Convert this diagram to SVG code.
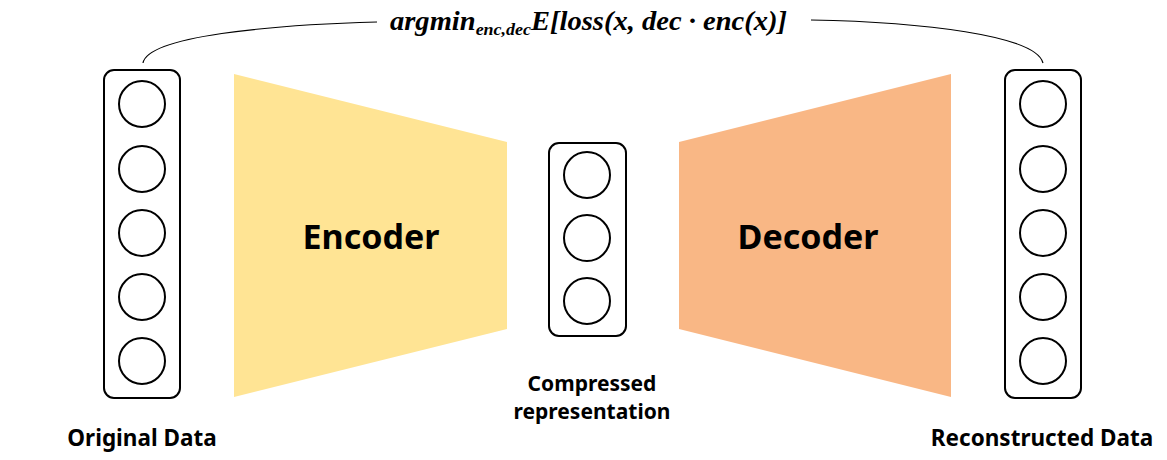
<svg xmlns="http://www.w3.org/2000/svg" width="1167" height="460" viewBox="0 0 1167 460">
<style>
.box{fill:#fff;stroke:#000;stroke-width:2}
.c{fill:#fff;stroke:#000;stroke-width:2}
.lbl{font-family:"Noto Sans","Open Sans",sans-serif;font-weight:bold;font-size:22.5px;fill:#000;text-anchor:middle}
.lbl2{font-family:"Noto Sans","Open Sans",sans-serif;font-weight:bold;font-size:21px;fill:#000;text-anchor:middle}
.big{font-family:"Noto Sans","Open Sans",sans-serif;font-weight:bold;font-size:34px;fill:#000;text-anchor:middle}
.f{font-family:"Liberation Serif",serif;font-weight:bold;font-style:italic;fill:#000}
.conn{fill:none;stroke:#000;stroke-width:1.2}
</style>
<rect width="1167" height="460" fill="#fff"/>
<g id="connectors">
<path class="conn" d="M143,63 C148,36 270,25 377,22"/>
<path class="conn" d="M811,20 C920,22 1036,35 1043,63"/>
</g>
<g id="formula">
<text class="f" x="390" y="30" font-size="27" textLength="397" lengthAdjust="spacingAndGlyphs">argmin<tspan font-size="17" dy="5">enc,dec</tspan><tspan dy="-5">E[loss(x, dec · enc(x)]</tspan></text>
</g>
<g id="original">
<rect class="box" x="104" y="70" width="76" height="328" rx="10"/>
<circle class="c" cx="142" cy="104" r="23"/>
<circle class="c" cx="142" cy="169" r="23"/>
<circle class="c" cx="142" cy="233" r="23"/>
<circle class="c" cx="142" cy="297" r="23"/>
<circle class="c" cx="142" cy="361" r="23"/>
<text class="lbl" x="142" y="446">Original Data</text>
</g>
<g id="encoder">
<polygon points="234,74 507,142 507,329 234,397" fill="#FFE494"/>
<text class="big" x="371" y="249">Encoder</text>
</g>
<g id="compressed">
<rect class="box" x="549" y="143" width="77" height="193" rx="10"/>
<circle class="c" cx="587" cy="175" r="23"/>
<circle class="c" cx="587" cy="238" r="23"/>
<circle class="c" cx="587" cy="301" r="23"/>
<text class="lbl2" x="592" y="391">Compressed</text>
<text class="lbl2" x="592" y="419">representation</text>
</g>
<g id="decoder">
<polygon points="679,142 951,74 951,397 679,329" fill="#F9B785"/>
<text class="big" x="808" y="249">Decoder</text>
</g>
<g id="reconstructed">
<rect class="box" x="1005" y="70" width="76" height="328" rx="10"/>
<circle class="c" cx="1043" cy="104" r="23"/>
<circle class="c" cx="1043" cy="169" r="23"/>
<circle class="c" cx="1043" cy="233" r="23"/>
<circle class="c" cx="1043" cy="297" r="23"/>
<circle class="c" cx="1043" cy="361" r="23"/>
<text class="lbl" x="1042" y="446">Reconstructed Data</text>
</g>
</svg>
